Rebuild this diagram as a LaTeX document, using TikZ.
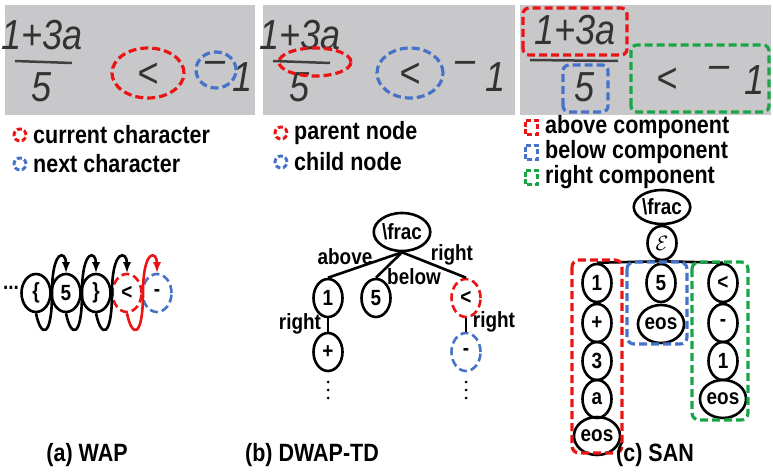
\documentclass[tikz,border=0pt]{standalone}
\usepackage{amsmath,amsfonts}
\usepackage{fontspec}
\setmainfont{Liberation Sans}[FakeStretch=0.86]
\usetikzlibrary{shapes,calc}
\definecolor{photo}{RGB}{200,200,202}
\definecolor{myred}{RGB}{235,20,20}
\definecolor{myblue}{RGB}{70,115,200}
\definecolor{mygreen}{RGB}{25,165,70}
\tikzset{
  tok/.style={draw,ellipse,line width=2.6pt,minimum width=29pt,minimum height=38pt,inner sep=0pt,font=\fontsize{22}{24}\selectfont\bfseries},
  hl/.style={line width=3.2pt,dash pattern=on 8pt off 4pt},
  icon/.style={line width=3pt,dash pattern=on 5pt off 2.5pt},
  hand/.style={text=black!80,font=\fontsize{42}{44}\selectfont\itshape,inner sep=0pt},
  lab/.style={font=\fontsize{25}{27}\selectfont\bfseries,anchor=west,inner sep=0pt},
  elab/.style={font=\fontsize{22}{24}\selectfont\bfseries,inner sep=1pt},
  captxt/.style={font=\fontsize{25}{27}\selectfont\bfseries},
  edge/.style={line width=2.6pt}
}
\begin{document}
\begin{tikzpicture}[x=1pt,y=1pt]
\useasboundingbox (0,0) rectangle (773,475);
% photos
\fill[photo] (5,360) rectangle (255,470);
\fill[photo] (263,360) rectangle (515,470);
\fill[photo] (520,360) rectangle (771,470);
\foreach\dx in {0,258} {
  \node[hand] (num\dx) at (42+\dx,440) {1+3a};
  \draw[line width=2.5pt,black!75] (15+\dx,414) -- (72+\dx,412);
  \node[hand] (den\dx) at (42+\dx,388) {5};
}
\node[hand] (lt1) at (148,400) {<};
\node[hand] (mi1) at (216,408) {--};
\node[hand] (on1) at (243,398) {1};
\draw[hl,myred] (148,402) ellipse (36 and 25);
\draw[hl,myblue] (216,405) ellipse (20 and 18);
\draw[hl,myred] (315,413) ellipse (36 and 14);
\node[hand] (lt2) at (410,400) {<};
\node[hand] (mi2) at (466,408) {--};
\node[hand] (on2) at (496,398) {1};
\draw[hl,myblue] (410,402) ellipse (33 and 25);
\node[hand] (num3) at (575,445) {1+3a};
\draw[line width=2.5pt,black!75] (530,415) -- (618,414);
\node[hand] (den3) at (585,388) {5};
\node[hand] (lt3) at (667,395) {<};
\node[hand] (mi3) at (720,403) {--};
\node[hand] (on3) at (755,395) {1};
\draw[hl,myred,rounded corners=6pt] (523,420) rectangle (627,467);
\draw[hl,myblue,rounded corners=6pt] (563,363) rectangle (608,410);
\draw[hl,mygreen,rounded corners=6pt] (631,363) rectangle (769,430);
% legends
\draw[icon,myred] (20,340) circle (6);
\node[lab] (l1) at (33,340) {current character};
\draw[icon,myblue] (20,311) circle (6);
\node[lab] (l2) at (33,311) {next character};
\draw[icon,myred] (281,342) circle (6);
\node[lab] (l3) at (294,342) {parent node};
\draw[icon,myblue] (281,313) circle (6);
\node[lab] (l4) at (294,313) {child node};
\draw[icon,myred] (525,341) rectangle (537,355);
\node[lab] (l5) at (545,348) {above component};
\draw[icon,myblue] (525,316) rectangle (537,330);
\node[lab] (l6) at (545,323) {below component};
\draw[icon,mygreen] (525,291) rectangle (537,305);
\node[lab] (l7) at (545,298) {right component};
% (a) WAP
\node[elab] (dots) at (11,187) {...};
\node[tok] (a1) at (36,182) {\{};
\node[tok] (a2) at (66,182) {5};
\node[tok] (a3) at (96,182) {\}};
\node[tok,draw=myred,hl,line width=2.6pt] (a4) at (127,182) {<};
\node[tok,draw=myblue,hl,line width=2.6pt] (a5) at (157,182) {-};
\foreach\i/\j in {a1/a2,a2/a3,a3/a4} {
  \draw[edge,-latex] (\i.south) .. controls ($(\i.south)+(5,-25)$) and ($(\i.south)+(16,-25)$) .. ($(\i.center)+(16,0)$)
    .. controls ($(\i.center)+(16,45)$) and ($(\j.north)+(0,22)$) .. (\j.north);
}
\draw[edge,-latex,myred] (a4.south) .. controls ($(a4.south)+(5,-25)$) and ($(a4.south)+(16,-25)$) .. ($(a4.center)+(16,0)$)
    .. controls ($(a4.center)+(16,45)$) and ($(a5.north)+(0,22)$) .. (a5.north);
\node[captxt] (capa) at (87,20) {(a) WAP};
% (b) DWAP-TD
\node[tok,minimum width=38pt] (b0) at (402,243) {\textbackslash frac};
\node[tok] (b1) at (328,177) {1};
\node[tok] (b2) at (376,177) {5};
\node[tok,draw=myred,hl,line width=2.6pt] (b3) at (466,177) {<};
\node[tok] (b4) at (328,123) {+};
\node[tok,draw=myblue,hl,line width=2.6pt] (b5) at (466,123) {-};
\draw[edge] (b0.south) -- (b1.north);
\draw[edge] (b0.south) -- (b2.north);
\draw[edge] (b0.south) -- (b3.north);
\draw[edge] (b1) -- (b4);
\draw[edge] (b3) -- (b5);
\node[elab] (t1) at (345,218) {above};
\node[elab] (t2) at (414,198) {below};
\node[elab] (t3) at (452,220) {right};
\node[elab] (t4) at (300,151) {right};
\node[elab] (t5) at (494,153) {right};
\foreach\x in {328,466} {
  \foreach\y in {77,85,93} {
    \fill (\x,\y) circle (1.5);
  }
}
\node[captxt] (capb) at (312,20) {(b) DWAP-TD};
% (c) SAN
\node[tok,minimum width=38pt,minimum height=34pt] (c0) at (662,268) {\textbackslash frac};
\node[tok,minimum height=34pt] (cE) at (662,232) {$\mathcal{E}$};
\foreach\n/\t/\y in {1/1/192,2/+/152,3/3/114,4/a/76,5/eos/39} {
  \node[tok] (l\n) at (597,\y) {\t};
}
\foreach\n/\t/\y in {1/5/192,2/eos/151} {
  \node[tok] (m\n) at (661,\y) {\t};
}
\foreach\n/\t/\y in {1/</192,2/-/152,3/1/114,4/eos/76} {
  \node[tok] (r\n) at (723,\y) {\t};
}
\draw[edge] (c0) -- (cE);
\draw[edge] (cE.south) -- (l1.north);
\draw[edge] (cE.south) -- (m1.north);
\draw[edge] (cE.south) -- (r1.north);
\draw[hl,myred,rounded corners=7pt] (572,215) rectangle (622,22);
\draw[hl,myblue,rounded corners=7pt] (627,213) rectangle (687,131);
\draw[hl,mygreen,rounded corners=7pt] (692,213) rectangle (748,55);
\node[captxt] (capc) at (655,20) {(c) SAN};
\end{tikzpicture}
\end{document}
